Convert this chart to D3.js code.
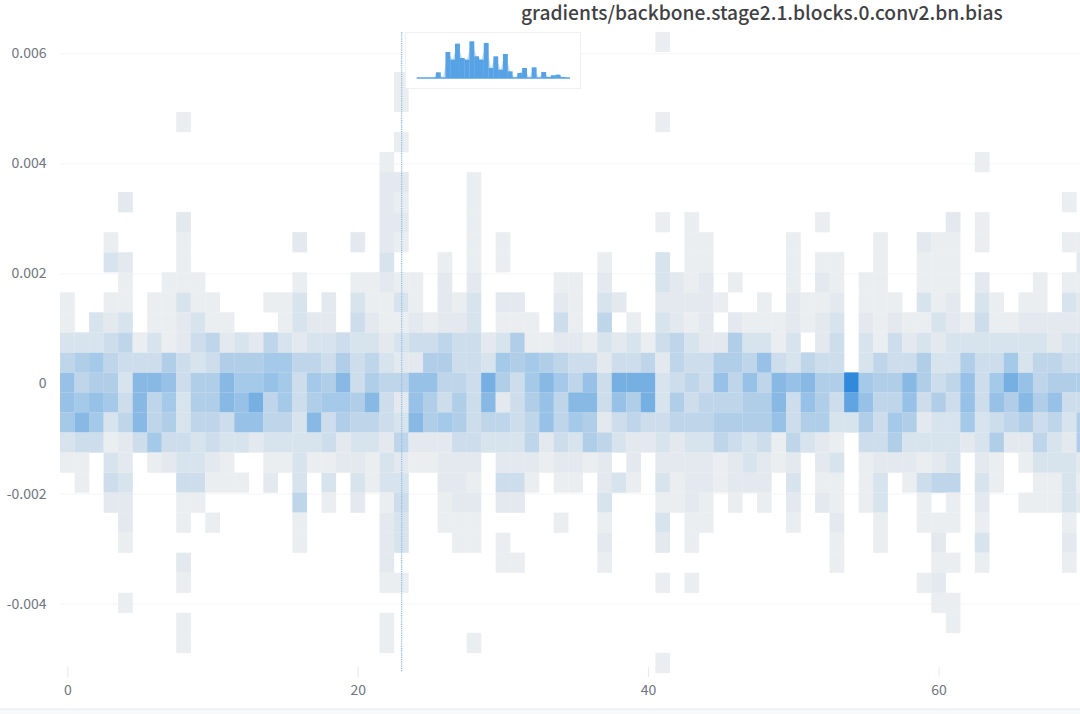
<!DOCTYPE html>
<html>
<head>
<meta charset="utf-8">
<script src="https://cdn.jsdelivr.net/npm/d3@7"></script>
<style>
  html, body { margin: 0; padding: 0; background: #fff; }
  svg { display: block; }
  text { font-family: "Noto Sans CJK SC", "Noto Sans", sans-serif; }
  .tick text { fill: #70757f; font-size: 14px; }
  .title { fill: #3f4145; font-size: 19.2px; font-weight: 500; }
  .soft { filter: blur(0.45px); }
</style>
</head>
<body>
<svg id="chart" width="1080" height="714"></svg>
<script>
var title = 'gradients/backbone.stage2.1.blocks.0.conv2.bn.bias';
var xTicks = [0, 20, 40, 60];
var yTicks = [0.006, 0.004, 0.002, 0, -0.002, -0.004];
var yTickLabels = ['0.006', '0.004', '0.002', '0', '-0.002', '-0.004'];
var stepCount = 71;
var hoverStep = 23;

// histogram bins, bin 0 holds the values around zero
var binHeight = 0.000364;
var binOffset = 0.00002;

// outer bins, only a few steps filled: [step, count]
var sparseBins = {
  '17': [[41,1]],
  '15': [[23,1]],
  '14': [[23,1]],
  '13': [[8,1],[41,1]],
  '12': [[23,1]],
  '11': [[22,1],[63,1]],
  '10': [[22,2],[23,2],[28,1]],
  '9': [[4,2],[22,2],[23,1],[28,1],[69,1]],
  '8': [[8,2],[22,2],[23,2],[28,1],[41,1],[43,1],[52,1],[61,2],[63,1]],
  '7': [[3,1],[8,1],[16,2],[20,2],[22,2],[23,1],[28,1],[30,1],[43,1],[44,1],[50,1],[56,1],[59,2],[60,1],[61,1],[63,1],[69,1],[70,1]],
  '6': [[3,3],[4,2],[8,1],[22,3],[26,1],[28,1],[30,1],[37,1],[41,3],[43,1],[44,1],[50,1],[52,1],[53,1],[56,1],[59,1],[60,1],[61,1],[70,2]],
  '5': [[4,1],[7,1],[8,1],[9,1],[16,1],[20,1],[21,1],[22,2],[23,1],[24,1],[26,2],[28,2],[34,1],[35,1],[37,2],[41,3],[42,2],[43,1],[44,2],[46,1],[50,1],[52,2],[53,1],[55,1],[56,1],[59,1],[60,1],[61,1],[63,2],[67,1],[69,1],[70,1]],
  '4': [[0,1],[3,1],[4,1],[6,1],[7,1],[8,3],[9,1],[10,1],[14,1],[15,1],[16,3],[18,2],[20,3],[21,1],[22,1],[23,3],[24,1],[26,2],[27,1],[28,3],[30,2],[31,2],[34,2],[35,1],[37,3],[38,2],[41,2],[42,2],[43,2],[44,2],[45,1],[48,1],[50,2],[51,1],[52,1],[53,2],[55,1],[56,1],[57,1],[59,3],[60,1],[61,2],[63,3],[64,1],[66,1],[67,1],[69,3],[70,2]],
  '-5': [[1,1],[3,4],[4,3],[8,4],[9,4],[10,1],[11,1],[12,1],[14,2],[16,3],[18,3],[20,3],[21,1],[22,3],[23,3],[26,2],[27,2],[28,1],[30,4],[31,4],[32,1],[34,1],[35,1],[37,2],[38,3],[39,1],[41,3],[42,1],[43,2],[44,2],[45,1],[46,2],[47,2],[48,2],[50,3],[52,1],[53,1],[55,1],[56,3],[58,1],[59,4],[60,5],[61,5],[63,3],[64,1],[67,1],[68,1],[69,3],[70,1]],
  '-6': [[3,2],[4,2],[8,1],[9,1],[16,5],[18,1],[20,2],[22,1],[23,4],[26,1],[27,2],[28,2],[30,2],[31,2],[37,3],[41,1],[42,1],[43,2],[44,1],[46,1],[48,1],[50,2],[52,2],[53,1],[55,1],[56,3],[59,1],[61,1],[63,2],[66,1],[67,1],[68,1],[69,3],[70,2]],
  '-7': [[4,2],[8,1],[10,1],[16,1],[22,2],[23,3],[26,1],[27,1],[28,1],[34,1],[37,1],[41,3],[43,1],[44,1],[50,1],[53,2],[56,1],[59,1],[60,1],[61,1],[63,1],[69,1]],
  '-8': [[4,1],[16,1],[22,2],[23,3],[27,1],[28,1],[30,1],[37,2],[41,2],[43,1],[53,1],[56,1],[60,2],[63,3],[69,2]],
  '-9': [[8,2],[22,2],[30,1],[31,1],[37,1],[53,1],[60,1],[61,1],[63,1],[69,1]],
  '-10': [[8,1],[22,1],[23,1],[41,1],[43,1],[59,1],[60,2]],
  '-11': [[4,1],[60,1],[61,1]],
  '-12': [[8,1],[22,1],[61,1]],
  '-13': [[8,1],[22,1],[28,1]],
  '-14': [[41,1]]
};

// central bins, one count per step
var bin3 = [1,0,3,2,3,0,1,1,2,3, 1,1,0,0,0,1,3,2,2,0, 4,2,1,1,2,1,2,2,3,0, 1,1,1,0,4,1,0,5,0,1, 0,3,2,1,2,0,2,1,1,1, 2,1,2,3,0,2,1,2,1,1, 3,2,1,4,1,1,2,2,2,2, 2];
var bin2 = [3,3,3,4,5,1,3,1,2,4, 5,2,3,2,5,3,2,3,3,4, 3,3,2,3,4,4,5,4,4,2, 3,6,1,1,2,2,1,3,2,3, 1,4,5,3,2,2,6,3,3,1, 3,0,2,4,0,3,1,4,2,3, 2,3,3,3,3,3,3,3,2,3, 3];
var bin1 = [5,6,7,5,4,4,4,6,4,3, 4,6,6,6,7,7,5,5,4,6, 4,5,3,2,2,6,6,4,4,3, 7,6,7,6,5,4,4,2,4,4, 5,2,5,4,4,6,6,5,8,4, 3,5,4,4,0,3,5,4,4,6, 3,3,6,4,4,7,3,5,5,4, 4];
var bin0 = [8,5,6,6,3,9,9,8,4,6, 6,9,7,7,8,7,4,7,6,9, 4,6,5,5,8,8,5,5,4,10, 6,4,7,9,7,5,8,4,10,10, 10,3,4,5,4,8,5,8,5,9, 8,9,6,6,12,7,6,6,9,6, 4,5,8,4,7,10,8,5,6,6, 6];
var binM1 = [8,7,8,7,4,9,5,7,3,6, 6,9,8,10,5,7,4,6,7,7, 6,9,4,2,8,6,4,6,4,9, 2,4,6,8,5,9,9,4,8,6, 10,3,6,4,5,5,5,6,6,9, 4,8,6,4,11,8,5,5,8,4, 6,4,8,4,8,6,9,6,8,4, 4];
var binM2 = [7,9,7,3,5,9,5,6,3,5, 5,4,8,8,5,5,3,9,4,6, 5,5,4,3,9,6,7,6,4,5, 5,4,5,8,5,7,6,2,4,5, 4,4,5,5,5,6,6,6,6,8, 4,6,6,3,3,6,4,7,6,2, 3,3,7,3,4,5,6,4,5,3, 6];
var binM3 = [3,4,4,1,2,4,7,4,4,3, 4,3,3,2,3,3,3,3,4,2, 3,3,2,5,2,2,2,4,4,3, 3,3,5,2,4,3,6,5,3,2, 2,3,2,3,3,5,4,3,4,1, 5,3,2,1,0,4,4,6,3,3, 3,3,2,3,6,2,2,5,3,2, 6];
var binM4 = [1,1,0,3,2,0,1,2,3,3, 2,1,0,0,1,1,3,1,1,2, 2,1,3,2,1,1,2,2,2,0, 2,2,2,1,2,2,1,2,0,2, 0,2,2,2,2,1,2,3,2,1, 2,0,2,3,0,1,2,2,2,1, 2,3,0,2,1,0,1,3,3,3, 2];
var denseBins = { '3': bin3, '2': bin2, '1': bin1, '0': bin0, '-1': binM1, '-2': binM2, '-3': binM3, '-4': binM4 };

// tooltip histogram of the hovered step
var hoverCounts = [0,0,0,0,17,0,78,55,103,60,55,110,65,55,105,30,65,25,72,20,0,15,30,0,32,0,18,3,8,10,3,0];

var svg = d3.select('#chart');

var x = d3.scaleLinear().domain([0, 60]).range([67.3, 938.5]);
var y = d3.scaleLinear().domain([-0.004, 0.006]).range([603.6, 53.3]);
var color = d3.scaleLinear()
  .domain([1, 2, 3, 4, 5, 6, 7, 8, 9, 10, 11, 12])
  .range(['#ebeef0', '#e3e9ee', '#d8e4ed', '#cdddec', '#bfd6ea', '#b1cee9', '#a5c9e8', '#97c1e6', '#88b9e4', '#76b0e2', '#60a4e2', '#3189dc']);

// flatten both tables to cells
var cells = [];
Object.keys(sparseBins).forEach(function(bin) {
  sparseBins[bin].forEach(function(c) {
    cells.push({ step: c[0], bin: +bin, count: c[1] });
  });
});
Object.keys(denseBins).forEach(function(bin) {
  denseBins[bin].forEach(function(count, step) {
    if (count > 0) cells.push({ step: step, bin: +bin, count: count });
  });
});

var stepWidth = x(1) - x(0);

// gridlines and y labels
var yAxis = d3.axisLeft(y)
  .tickValues(yTicks)
  .tickSize(0)
  .tickPadding(13.5)
  .tickFormat(function(d, i) { return yTickLabels[i]; });
var yG = svg.append('g').attr('transform', 'translate(60,0)').call(yAxis);
yG.select('.domain').remove();
yG.selectAll('.tick line').attr('x2', 1020).attr('stroke', '#f4f5f7');

svg.append('g').attr('class', 'soft').selectAll('rect')
  .data(cells)
  .join('rect')
  .attr('x', function(d) { return x(d.step) - stepWidth / 2; })
  .attr('width', stepWidth + 0.2)
  .attr('y', function(d) { return y((d.bin + 0.5) * binHeight + binOffset); })
  .attr('height', function(d) { return y(0) - y(binHeight) + 0.2; })
  .attr('fill', function(d) { return color(d.count); });

var xAxis = d3.axisBottom(x)
  .tickValues(xTicks)
  .tickSize(10)
  .tickPadding(8)
  .tickFormat(d3.format('d'));
var xG = svg.append('g').attr('transform', 'translate(0,667)').call(xAxis);
xG.select('.domain').remove();
xG.selectAll('.tick line').attr('stroke', '#e6e7ea');

// hover marker
svg.append('line')
  .attr('x1', x(hoverStep) + 0.4).attr('x2', x(hoverStep) + 0.4)
  .attr('y1', 32).attr('y2', 672)
  .attr('stroke', '#8ebde8')
  .attr('stroke-width', 1.3)
  .attr('stroke-dasharray', '1.2,1');

// tooltip
var tip = svg.append('g').attr('transform', 'translate(405.5,32.5)');
tip.append('rect')
  .attr('width', 175).attr('height', 56)
  .attr('fill', '#fff')
  .attr('stroke', '#eff0f2');

var tipX = d3.scaleBand().domain(d3.range(hoverCounts.length)).range([11.2, 164.5]);
var tipY = d3.scaleLinear().domain([0, 110]).range([45.5, 8.8]);

var tipMarks = tip.append('g').attr('class', 'soft');

tipMarks.selectAll('rect')
  .data(hoverCounts)
  .join('rect')
  .attr('x', function(d, i) { return tipX(i); })
  .attr('width', tipX.bandwidth() + 0.1)
  .attr('y', function(d) { return tipY(d); })
  .attr('height', function(d) { return tipY(0) - tipY(d); })
  .attr('fill', '#57a2e4');

var tipArea = d3.area()
  .x(function(d, i) { return tipX(i) + tipX.bandwidth() / 2; })
  .y0(tipY(0))
  .y1(function(d) { return tipY(d); });
tipMarks.append('path')
  .attr('d', tipArea(hoverCounts))
  .attr('fill', '#57a2e4')
  .attr('fill-opacity', 0.35);

tipMarks.append('line')
  .attr('x1', tipX(0)).attr('x2', 164.5)
  .attr('y1', tipY(0)).attr('y2', tipY(0))
  .attr('stroke', '#57a2e4')
  .attr('stroke-width', 1.5);

svg.append('text')
  .attr('class', 'title')
  .attr('x', 521)
  .attr('y', 20)
  .text(title);

// page edge under the chart
svg.append('rect').attr('x', 0).attr('y', 709).attr('width', 1080).attr('height', 5).attr('fill', '#f8f9fb');
svg.append('line').attr('x1', 0).attr('x2', 1080).attr('y1', 709).attr('y2', 709).attr('stroke', '#e4e6ea');
</script>
</body>
</html>
